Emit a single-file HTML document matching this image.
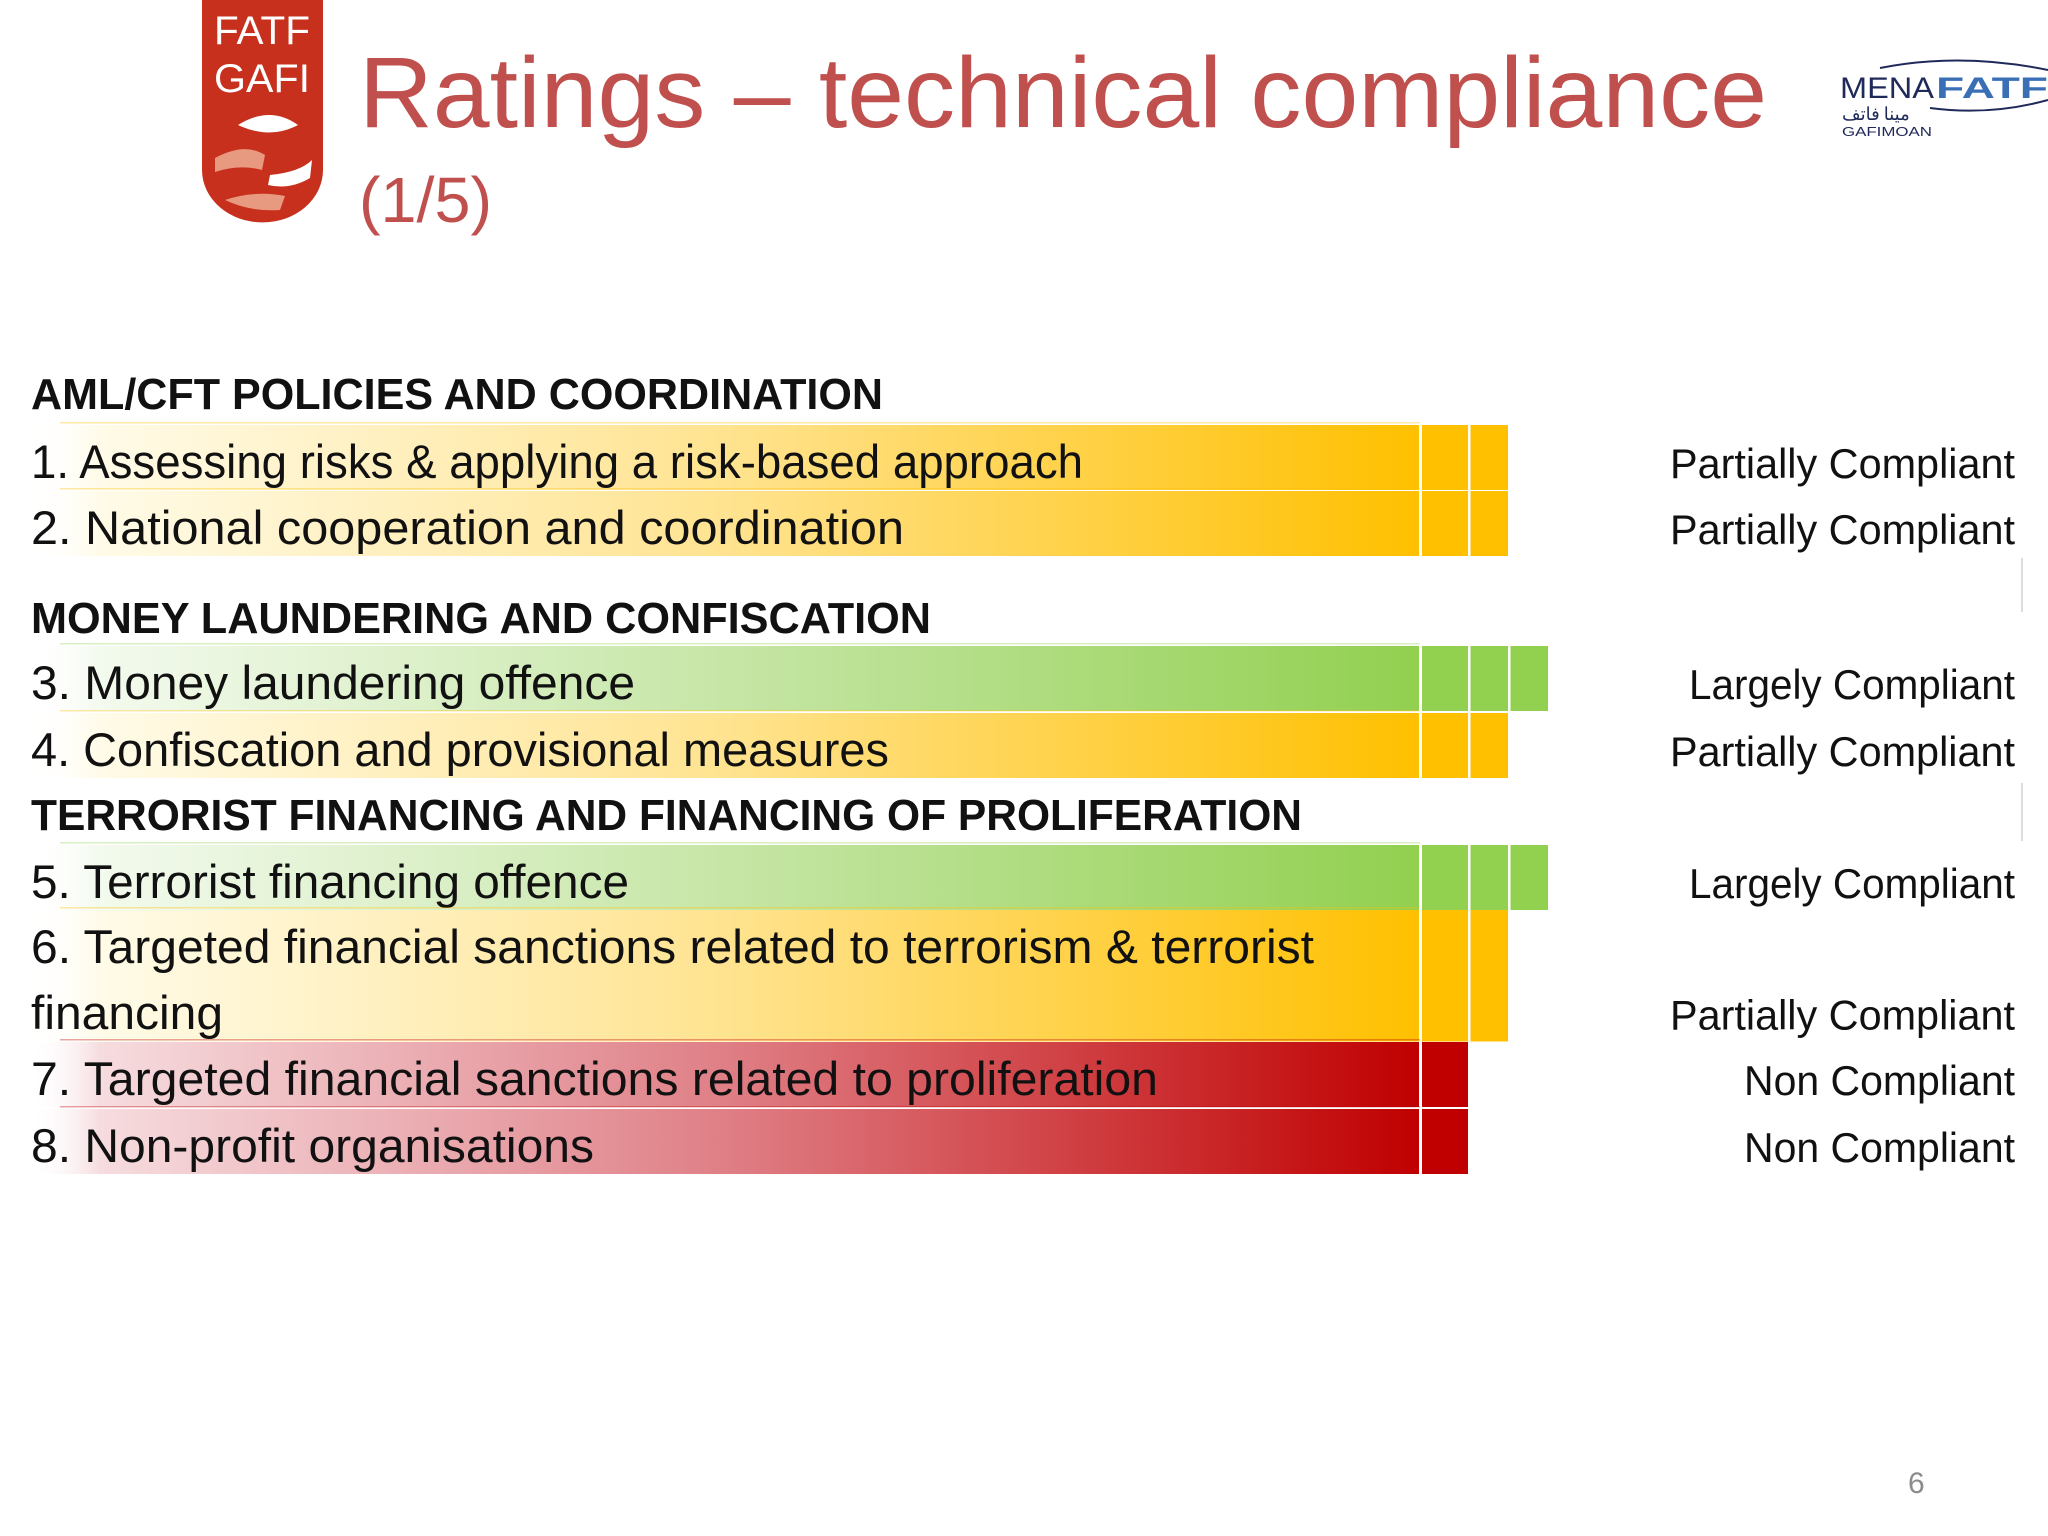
<!DOCTYPE html>
<html><head><meta charset="utf-8"><style>
html,body{margin:0;padding:0;background:#fff;}
svg{display:block;font-family:"Liberation Sans",sans-serif;}
</style></head><body>
<svg id="chart" width="2048" height="1536" viewBox="0 0 2048 1536" xmlns="http://www.w3.org/2000/svg">
<defs>
<linearGradient id="g-PC" x1="0" x2="1" y1="0" y2="0"><stop offset="0" stop-color="#fff" stop-opacity="0"/><stop offset="0.05" stop-color="#fffbe8"/><stop offset="0.5" stop-color="#ffe390"/><stop offset="1" stop-color="#ffc000"/></linearGradient>
<linearGradient id="g-LC" x1="0" x2="1" y1="0" y2="0"><stop offset="0" stop-color="#fff" stop-opacity="0"/><stop offset="0.05" stop-color="#f3faee"/><stop offset="0.5" stop-color="#c6e6a6"/><stop offset="1" stop-color="#92d050"/></linearGradient>
<linearGradient id="g-NC" x1="0" x2="1" y1="0" y2="0"><stop offset="0" stop-color="#fff" stop-opacity="0"/><stop offset="0.05" stop-color="#f6dcdf"/><stop offset="0.5" stop-color="#df7f86"/><stop offset="1" stop-color="#c00000"/></linearGradient>
</defs>
<g>
<path d="M202 0 H323 V170 A60 52 0 0 1 202 170 Z" fill="#c8301e"/>
<text x="214" y="44" font-size="40" fill="#fff" textLength="96" lengthAdjust="spacingAndGlyphs">FATF</text>
<text x="214" y="92" font-size="40" fill="#fff" textLength="96" lengthAdjust="spacingAndGlyphs">GAFI</text>
<path d="M238 125 Q270 105 298 125 Q270 140 238 125Z" fill="#fff"/>
<path d="M215 158 Q245 142 265 155 L262 170 Q240 164 215 172Z" fill="#e79a80"/>
<path d="M270 175 Q300 172 312 160 L310 178 Q290 190 268 185Z" fill="#fff"/>
<path d="M225 200 Q255 190 285 196 L280 210 Q250 212 225 200Z" fill="#e79a80"/>
</g>
<text x="359" y="127" font-size="100" fill="#c0504d" textLength="1408" lengthAdjust="spacingAndGlyphs">Ratings – technical compliance</text>
<text x="359" y="222" font-size="64" fill="#c0504d" textLength="133" lengthAdjust="spacingAndGlyphs">(1/5)</text>
<g>
<text x="1840" y="98" font-size="30" fill="#1f2a5a" textLength="94" lengthAdjust="spacingAndGlyphs">MENA</text>
<text x="1936" y="98" font-size="30" font-weight="bold" fill="#3a6fb5" textLength="112" lengthAdjust="spacingAndGlyphs">FATF</text>
<path d="M1880 68 Q1960 52 2048 70" stroke="#1f2a5a" stroke-width="2" fill="none"/>
<path d="M1930 108 Q1990 116 2048 100" stroke="#1f2a5a" stroke-width="2" fill="none"/>
<text x="1842" y="120" font-size="18" fill="#1f2a5a" font-family="'Noto Sans CJK SC',sans-serif">مينا فاتف</text>
<text x="1842" y="136" font-size="13" fill="#1f2a5a" textLength="90" lengthAdjust="spacingAndGlyphs">GAFIMOAN</text>
</g>
<g id="rows"></g>
<text x="1908" y="1493" font-size="30" fill="#8c8c8c">6</text>
<rect x="2021" y="558" width="2" height="54" fill="#ddd"/>
<rect x="2021" y="783" width="2" height="58" fill="#ddd"/>
</svg>
<script>
const headings = ["AML/CFT POLICIES AND COORDINATION","MONEY LAUNDERING AND CONFISCATION","TERRORIST FINANCING AND FINANCING OF PROLIFERATION"];
const headingWidths = [852, 900, 1271];
const headingY = [409, 633, 830];
const labels = ["1. Assessing risks & applying a risk-based approach","2. National cooperation and coordination","3. Money laundering offence","4. Confiscation and provisional measures","5. Terrorist financing offence","6. Targeted financial sanctions related to terrorism & terrorist|financing","7. Targeted financial sanctions related to proliferation","8. Non-profit organisations"];
const labelWidths = [1052, 873, 604, 858, 598, 1283, 1127, 563];
const ratings = ["PC","PC","LC","PC","LC","PC","NC","NC"];
const rowTops = [425, 491, 646, 713, 845, 910, 1042, 1109];
const rowLines = [1,1,1,1,1,2,1,1];
const ratingCells = {NC:1, PC:2, LC:3, C:4};
const ratingNames = {NC:"Non Compliant", PC:"Partially Compliant", LC:"Largely Compliant", C:"Compliant"};
const ratingColors = {NC:"#c00000", PC:"#ffc000", LC:"#92d050", C:"#00b050"};
const NS="http://www.w3.org/2000/svg";
const g=document.getElementById('rows');
function mk(tag,attrs,parent){const e=document.createElementNS(NS,tag);for(const k in attrs)e.setAttribute(k,attrs[k]);(parent||g).appendChild(e);return e;}
const rowH=65, gap=1.5, gradX=30, gradEnd=1420, cellX0=1422, cellW=37.5, cellGap=2.5;
const nameW={"Partially Compliant":345,"Largely Compliant":326,"Non Compliant":271,"Compliant":200};
headings.forEach((h,i)=>{
  const t=mk('text',{x:31,y:headingY[i],'font-size':44,'font-weight':'bold',fill:'#111',textLength:headingWidths[i],lengthAdjust:'spacingAndGlyphs'});
  t.textContent=h;
  
  
});
labels.forEach((lab,i)=>{
  const r=ratings[i], top=rowTops[i], h=rowH*rowLines[i]+(rowLines[i]-1)*gap;
  const bar=mk('rect',{x:gradX,y:top,width:gradEnd-gradX-1,height:h,fill:'url(#g-'+r+')'});
  
  
  mk('rect',{x:gradX+30,y:top-3,width:gradEnd-gradX-30,height:1.5,fill:ratingColors[r],opacity:0.35});
  for(let c=0;c<ratingCells[r];c++){
    const cx = c==0 ? cellX0 : cellX0+46+cellGap+(c-1)*(cellW+cellGap);
    const cell=mk('rect',{x:cx,y:top,width:c==0?46:cellW,height:h,fill:ratingColors[r]});
    
    
  }
  const parts=lab.split('|');
  parts.forEach((p,j)=>{
    const t=mk('text',{x:31,y:top+53+j*66,'font-size':47,fill:'#111',textLength:j==0?labelWidths[i]:192,lengthAdjust:'spacingAndGlyphs'});
    t.textContent=p;
    
    
  });
  const nm=ratingNames[r];
  const rt=mk('text',{x:2015,y:top+h-12,'font-size':42,fill:'#111','text-anchor':'end',textLength:nameW[nm],lengthAdjust:'spacingAndGlyphs'});
  rt.textContent=nm;
  
  
});
</script>
</body></html>
